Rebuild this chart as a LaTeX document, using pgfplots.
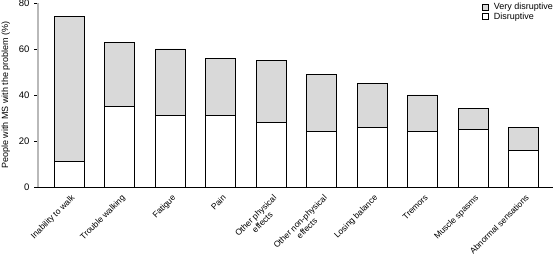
\documentclass[border=0pt]{standalone}
\usepackage{pgfplots}
\pgfplotsset{compat=1.18}
\usepackage{fontspec}
\setmainfont{Liberation Sans}
\definecolor{lightgr}{RGB}{217,217,217}
\begin{document}
\begin{tikzpicture}
\begin{axis}[
  scale only axis, width=515bp, height=184bp,
  ybar stacked, bar width=30bp,
  xmin=-0.62, xmax=9.58, ymin=0, ymax=80,
  axis x line=bottom, axis y line=left,
  x axis line style={-, black, line width=0.8pt},
  y axis line style={-, gray!55, line width=1.8pt},
  xtick=data, xtick style={draw=none},
  xticklabels={Inability to walk, Trouble walking, Fatigue, Pain, {Other physical\\effects}, {Other non-physical\\effects}, Losing balance, Tremors, Muscle spasms, Abnormal sensations},
  xticklabel style={rotate=45, anchor=north east, align=center, font=\fontsize{8.5bp}{9.5bp}\selectfont, inner sep=1bp, yshift=-2bp},
  ytick={0,20,40,60,80},
  /pgf/number format/assume math mode=true,
  ytick style={black, line width=0.6pt}, major tick length=4bp, tick align=outside,
  yticklabel style={font=\fontsize{9.5bp}{10bp}\selectfont, xshift=-1bp},
  ylabel={People with MS with the problem (\%)},
  ylabel style={font=\fontsize{9bp}{10bp}\selectfont, yshift=2bp},
  legend style={at={(1.006,1.017)}, anchor=north east, draw=none, fill=none, font=\fontsize{9bp}{10bp}\selectfont, row sep=-2.5bp, inner sep=1bp},
  legend cell align=left, reverse legend,
  legend image code/.code={\draw[#1, line width=0.6pt] (0bp,-3bp) rectangle (6bp,3bp); \path[draw=none, fill=none] (0bp,0bp) -- (10bp,0bp);},
]
\addplot[fill=white, draw=black, line width=0.8pt] coordinates {(0,11) (1,35) (2,31) (3,31) (4,28) (5,24) (6,26) (7,24) (8,25) (9,16)};
\addplot[fill=lightgr, draw=black, line width=0.8pt] coordinates {(0,63) (1,28) (2,29) (3,25) (4,27) (5,25) (6,19) (7,16) (8,9) (9,10)};
\legend{Disruptive, Very disruptive}
\path (rel axis cs:0,0) coordinate (sw) (rel axis cs:1,1) coordinate (ne);
\end{axis}
\pgfresetboundingbox
\path ([xshift=-38bp,yshift=-71bp]sw) rectangle ([xshift=3bp,yshift=3bp]ne);
\end{tikzpicture}
\end{document}
